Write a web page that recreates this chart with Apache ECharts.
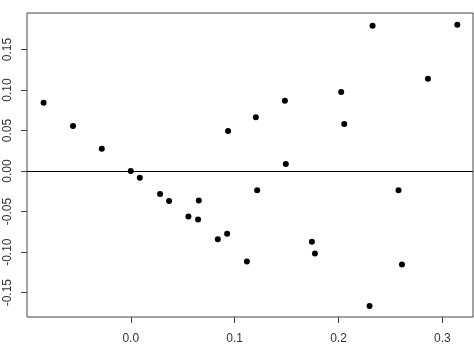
<!DOCTYPE html>
<html>
<head>
  <meta charset="UTF-8">
  <title>scatter</title>
  <script src="https://cdn.jsdelivr.net/npm/echarts@6/dist/echarts.min.js"></script>
  <style>
    html, body { margin: 0; padding: 0; background: #fff; }
    #main { width: 474px; height: 354px; }
  </style>
</head>
<body>
  <div id="main"></div>
  <script type="text/javascript">
    // values
    var xValues = [-0.0839, -0.0556, -0.0279, 0.0000, 0.0087, 0.0937,
      0.2328, 0.3144, 0.2861, 0.2026, 0.1484, 0.1204, 0.2055, 0.1493,
      0.0282, 0.0369, 0.0655, 0.0555, 0.0648, 0.0838, 0.0928,
      0.1217, 0.2578, 0.1744, 0.1773, 0.1118, 0.2611, 0.2299];
    var yValues = [0.0843, 0.0556, 0.0275, 0.0000, -0.0082, 0.0494,
      0.1794, 0.1806, 0.1140, 0.0975, 0.0868, 0.0663, 0.0580, 0.0086,
      -0.0284, -0.0370, -0.0362, -0.0560, -0.0597, -0.0840, -0.0774,
      -0.0235, -0.0235, -0.0873, -0.1016, -0.1115, -0.1152, -0.1663];
    var xTicks = [0.0, 0.1, 0.2, 0.3];
    var yTicks = [-0.15, -0.10, -0.05, 0.00, 0.05, 0.10, 0.15];

    var points = [];
    for (var i = 0; i < xValues.length; i++) {
      points.push([xValues[i], yValues[i]]);
    }

    var myChart = echarts.init(document.getElementById('main'));
    var labelFont = {
      fontFamily: 'Liberation Sans, Arial, sans-serif',
      fontSize: 12,
      color: '#333'
    };
    var option = {
      animation: false,
      backgroundColor: '#fff',
      grid: {
        left: 27,
        right: 1,
        top: 13,
        bottom: 37,
        show: true,
        borderColor: '#444',
        borderWidth: 1
      },
      xAxis: {
        type: 'value',
        min: -0.0999,
        max: 0.3295,
        axisLine: { show: false, onZero: false },
        splitLine: { show: false },
        axisTick: {
          show: true,
          length: 6,
          customValues: xTicks,
          lineStyle: { color: '#444' }
        },
        axisLabel: Object.assign({
          margin: 16,
          customValues: xTicks,
          formatter: function (value) {
            return value.toFixed(1);
          }
        }, labelFont)
      },
      yAxis: {
        type: 'value',
        min: -0.180,
        max: 0.195,
        axisLine: { show: false, onZero: false },
        splitLine: { show: false },
        axisTick: {
          show: true,
          length: 6,
          customValues: yTicks,
          lineStyle: { color: '#444' }
        },
        axisLabel: Object.assign({
          margin: 13,
          rotate: 90,
          customValues: yTicks,
          formatter: function (value) {
            return value.toFixed(2);
          }
        }, labelFont)
      },
      series: [
        {
          type: 'scatter',
          data: points,
          symbol: 'circle',
          symbolSize: 6,
          itemStyle: { color: '#000', opacity: 1 },
          markLine: {
            silent: true,
            symbol: ['none', 'none'],
            label: { show: false },
            lineStyle: { color: '#000', type: 'solid', width: 1 },
            data: [{ yAxis: 0 }]
          }
        }
      ]
    };
    myChart.setOption(option);
  </script>
</body>
</html>
